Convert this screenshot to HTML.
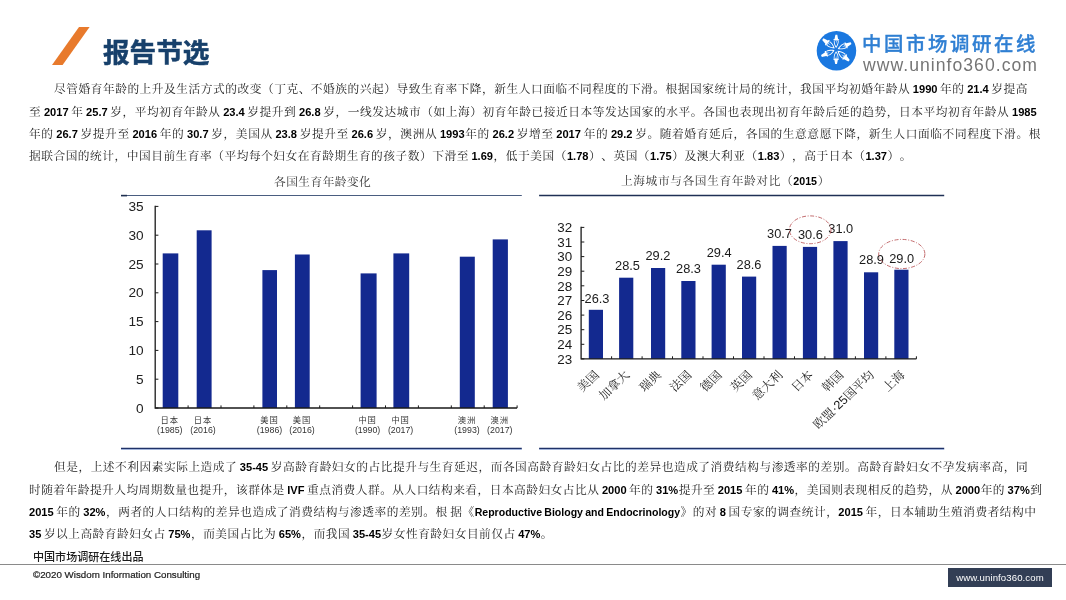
<!DOCTYPE html>
<html lang="zh-CN">
<head>
<meta charset="utf-8">
<title>报告节选</title>
<style>
  html, body { margin: 0; padding: 0; background: #fff; }
  body { width: 1066px; height: 600px; position: relative; overflow: hidden;
         font-family: "Liberation Sans", "Noto Sans CJK SC", sans-serif; }
  .abs { position: absolute; white-space: nowrap; }
  body > * { will-change: transform; }
  /* ---------- header ---------- */
  #slash { position: absolute; left: 0; top: 0; }
  #title { left: 102.5px; top: 32.8px; font-size: 26.6px; line-height: 40px; font-weight: 700; -webkit-text-stroke: 0.5px #17406b;
           color: #17406b; font-family: "Liberation Sans", "Noto Sans CJK SC", sans-serif; letter-spacing: 0px; }
  #logo { position: absolute; left: 814px; top: 28px; width: 44px; height: 44px; }
  #brand { left: 861.6px; top: 30px; font-size: 19.4px; line-height: 28px; color: #2f7fd3; font-weight: 500; -webkit-text-stroke: 0.35px #2f7fd3;
           letter-spacing: 2.6px; font-family: "Liberation Sans", "Noto Sans CJK SC", sans-serif; }
  #url { left: 862.5px; top: 54px; font-size: 17.6px; line-height: 22px; color: #757575; letter-spacing: 1.03px; }
  /* ---------- body text ---------- */
  .ln, .ct { text-spacing-trim: space-all; }
  .ln { position: absolute; white-space: nowrap; height: 22px; line-height: 22px; font-size: 11.7px; color: #222; word-spacing: -1.2px;
        font-family: "Liberation Sans", "Noto Serif CJK SC", serif; text-align: justify; text-align-last: justify; }
  .ln b { font-family: "Liberation Sans", sans-serif; font-weight: 700; font-size: 11.1px; color: #000; }
  .ct { position: absolute; white-space: nowrap; font-size: 11.7px; line-height: 16px; color: #333;
        font-family: "Liberation Sans", "Noto Serif CJK SC", serif; text-align: justify; text-align-last: justify; }
  .ct b { font-family: "Liberation Sans", sans-serif; font-weight: 700; font-size: 10.7px; color: #000; }
  /* ---------- footer ---------- */
  #pub { left: 33.1px; top: 549px; font-size: 11.05px; line-height: 16px; color: #1c1c1c; font-weight: 500;
         font-family: "Liberation Sans", "Noto Sans CJK SC", sans-serif; }
  #rule { position: absolute; left: 0; top: 563.6px; width: 1066px; height: 1.2px; background: #8a8a8a; }
  #copy { left: 33.2px; top: 568.3px; font-size: 9.75px; line-height: 14px; color: #1c1c1c; -webkit-text-stroke: 0.2px #1c1c1c; }
  #box { position: absolute; left: 948px; top: 568.2px; width: 104px; height: 19px; background: #323e55;
         color: #fff; font-size: 9.6px; line-height: 20px; text-align: center; white-space: nowrap; letter-spacing: 0.1px; }
  svg text { font-family: "Liberation Sans", "Noto Serif CJK SC", sans-serif; }
</style>
</head>
<body>

<!-- header -->
<svg id="slash" width="100" height="70" viewBox="0 0 100 70"><polygon points="79,27 89.6,27 62.6,65 52,65" fill="#e87a2c"/></svg>
<div id="title" class="abs">报告节选</div>

<svg id="logo" viewBox="-22 -22 44 44">
  <circle cx="0.45" cy="0.7" r="19.75" fill="#1a78e0"/>
  <g transform="translate(0.1,-0.4)">
    <g transform="rotate(1) scale(0.937)"><path d="M-1,-15.9 L1,-15.9 L1.9,-11.4 L3.15,-10.9 L2.8,-9.8 L-2.8,-9.8 L-3.15,-10.9 L-1.9,-11.4 Z" fill="#fff"/><path d="M0,-1.7 C1.2,-3.2 2.75,-6 2.65,-9.5 L-2.65,-9.5 C-2.75,-6 -1.2,-3.2 0,-1.7 Z" fill="#fff"/><path d="M-1.8,-9.2 L-0.34,-9.2 L0,-6.2 L0.34,-9.2 L1.8,-9.2 C1.75,-6.9 1,-4.8 0,-3.4 C-1,-4.8 -1.75,-6.9 -1.8,-9.2 Z" fill="#1a78e0"/></g>
    <g transform="rotate(66.7) scale(1.025)"><path d="M-1,-15.9 L1,-15.9 L1.9,-11.4 L3.15,-10.9 L2.8,-9.8 L-2.8,-9.8 L-3.15,-10.9 L-1.9,-11.4 Z" fill="#fff"/><path d="M0,-1.7 C1.2,-3.2 2.75,-6 2.65,-9.5 L-2.65,-9.5 C-2.75,-6 -1.2,-3.2 0,-1.7 Z" fill="#fff"/><path d="M-1.8,-9.2 L-0.34,-9.2 L0,-6.2 L0.34,-9.2 L1.8,-9.2 C1.75,-6.9 1,-4.8 0,-3.4 C-1,-4.8 -1.75,-6.9 -1.8,-9.2 Z" fill="#1a78e0"/></g>
    <g transform="rotate(130.6) scale(1.075)"><path d="M-1,-15.9 L1,-15.9 L1.9,-11.4 L3.15,-10.9 L2.8,-9.8 L-2.8,-9.8 L-3.15,-10.9 L-1.9,-11.4 Z" fill="#fff"/><path d="M0,-1.7 C1.2,-3.2 2.75,-6 2.65,-9.5 L-2.65,-9.5 C-2.75,-6 -1.2,-3.2 0,-1.7 Z" fill="#fff"/><path d="M-1.8,-9.2 L-0.34,-9.2 L0,-6.2 L0.34,-9.2 L1.8,-9.2 C1.75,-6.9 1,-4.8 0,-3.4 C-1,-4.8 -1.75,-6.9 -1.8,-9.2 Z" fill="#1a78e0"/></g>
    <g transform="rotate(180) scale(0.906)"><path d="M-1,-15.9 L1,-15.9 L1.9,-11.4 L3.15,-10.9 L2.8,-9.8 L-2.8,-9.8 L-3.15,-10.9 L-1.9,-11.4 Z" fill="#fff"/><path d="M0,-1.7 C1.2,-3.2 2.75,-6 2.65,-9.5 L-2.65,-9.5 C-2.75,-6 -1.2,-3.2 0,-1.7 Z" fill="#fff"/><path d="M-1.8,-9.2 L-0.34,-9.2 L0,-6.2 L0.34,-9.2 L1.8,-9.2 C1.75,-6.9 1,-4.8 0,-3.4 C-1,-4.8 -1.75,-6.9 -1.8,-9.2 Z" fill="#1a78e0"/></g>
    <g transform="rotate(246.6) scale(1.006)"><path d="M-1,-15.9 L1,-15.9 L1.9,-11.4 L3.15,-10.9 L2.8,-9.8 L-2.8,-9.8 L-3.15,-10.9 L-1.9,-11.4 Z" fill="#fff"/><path d="M0,-1.7 C1.2,-3.2 2.75,-6 2.65,-9.5 L-2.65,-9.5 C-2.75,-6 -1.2,-3.2 0,-1.7 Z" fill="#fff"/><path d="M-1.8,-9.2 L-0.34,-9.2 L0,-6.2 L0.34,-9.2 L1.8,-9.2 C1.75,-6.9 1,-4.8 0,-3.4 C-1,-4.8 -1.75,-6.9 -1.8,-9.2 Z" fill="#1a78e0"/></g>
    <g transform="rotate(308.3) scale(1.063)"><path d="M-1,-15.9 L1,-15.9 L1.9,-11.4 L3.15,-10.9 L2.8,-9.8 L-2.8,-9.8 L-3.15,-10.9 L-1.9,-11.4 Z" fill="#fff"/><path d="M0,-1.7 C1.2,-3.2 2.75,-6 2.65,-9.5 L-2.65,-9.5 C-2.75,-6 -1.2,-3.2 0,-1.7 Z" fill="#fff"/><path d="M-1.8,-9.2 L-0.34,-9.2 L0,-6.2 L0.34,-9.2 L1.8,-9.2 C1.75,-6.9 1,-4.8 0,-3.4 C-1,-4.8 -1.75,-6.9 -1.8,-9.2 Z" fill="#1a78e0"/></g>
  </g>
</svg>
<div id="brand" class="abs">中国市场调研在线</div>
<div id="url" class="abs">www.uninfo360.com</div>

<!-- paragraph 1 -->
<div class="ln" style="left:53.9px; top:78.4px; width:973.5px;">尽管婚育年龄的上升及生活方式的改变（丁克、不婚族的兴起）导致生育率下降，新生人口面临不同程度的下滑。根据国家统计局的统计，我国平均初婚年龄从 <b>1990</b> 年的 <b>21.4</b> 岁提高</div>
<div class="ln" style="left:29.0px; top:100.6px; width:1007.7px;">至 <b>2017</b> 年 <b>25.7</b> 岁，平均初育年龄从 <b>23.4</b> 岁提升到 <b>26.8</b> 岁，一线发达城市（如上海）初育年龄已接近日本等发达国家的水平。各国也表现出初育年龄后延的趋势，日本平均初育年龄从 <b>1985</b></div>
<div class="ln" style="left:29.0px; top:122.8px; width:1011.5px;">年的 <b>26.7</b> 岁提升至 <b>2016</b> 年的 <b>30.7</b> 岁，美国从 <b>23.8</b> 岁提升至 <b>26.6</b> 岁，澳洲从 <b>1993</b>年的 <b>26.2</b> 岁增至 <b>2017</b> 年的 <b>29.2</b> 岁。随着婚育延后，各国的生意意愿下降，新生人口面临不同程度下滑。根</div>
<div class="ln" style="left:29.0px; top:145.0px; width:882.5px;">据联合国的统计，中国目前生育率（平均每个妇女在育龄期生育的孩子数）下滑至 <b>1.69</b>，低于美国（<b>1.78</b>）、英国（<b>1.75</b>）及澳大利亚（<b>1.83</b>），高于日本（<b>1.37</b>）。</div>

<!-- chart titles -->
<div class="ct" style="left:273.5px; top:174px; width:96.8px;">各国生育年龄变化</div>
<div class="ct" style="left:621.4px; top:173px; width:208.4px;">上海城市与各国生育年龄对比（<b>2015</b>）</div>

<!-- CHARTS -->
<svg id="charts" class="abs" style="left:0; top:0;" width="1066" height="600" viewBox="0 0 1066 600">
<g fill="none">
<line x1="121" y1="195.5" x2="521.8" y2="195.5" stroke="#4a5d80" stroke-width="1"/>
<line x1="121" y1="195.6" x2="127" y2="195.6" stroke="#1f3050" stroke-width="1.6"/>
<line x1="121" y1="448.5" x2="521.8" y2="448.5" stroke="#1f3268" stroke-width="1.45"/>
<line x1="539.1" y1="195.5" x2="944.2" y2="195.5" stroke="#1f3055" stroke-width="1.45"/>
<line x1="539.1" y1="448.5" x2="944.2" y2="448.5" stroke="#1f3268" stroke-width="1.45"/>
<line x1="121" y1="449.5" x2="521.8" y2="449.5" stroke="#8aa4dc" stroke-width="0.6"/>
<line x1="539.1" y1="449.5" x2="944.2" y2="449.5" stroke="#8aa4dc" stroke-width="0.6"/>
</g>
<g id="chartL">
<rect x="162.7" y="253.4" width="15.6" height="154.6" fill="#13298f"/>
<rect x="196.7" y="230.3" width="14.9" height="177.7" fill="#13298f"/>
<rect x="262.4" y="270.1" width="14.6" height="137.9" fill="#13298f"/>
<rect x="294.9" y="254.5" width="14.8" height="153.5" fill="#13298f"/>
<rect x="360.6" y="273.4" width="16.0" height="134.6" fill="#13298f"/>
<rect x="393.4" y="253.4" width="15.8" height="154.6" fill="#13298f"/>
<rect x="459.8" y="256.7" width="15.0" height="151.3" fill="#13298f"/>
<rect x="492.7" y="239.4" width="15.2" height="168.6" fill="#13298f"/>
<path d="M155.2,205.8 V408.0 H517.1" fill="none" stroke="#1a1a1a" stroke-width="1.3"/>
<path d="M155.2,408.0 h3.2 M155.2,379.2 h3.2 M155.2,350.4 h3.2 M155.2,321.6 h3.2 M155.2,292.8 h3.2 M155.2,264.0 h3.2 M155.2,235.2 h3.2 M155.2,206.4 h3.2 M188.1,408.0 v-2.6 M221.0,408.0 v-2.6 M253.9,408.0 v-2.6 M286.8,408.0 v-2.6 M319.7,408.0 v-2.6 M352.6,408.0 v-2.6 M385.5,408.0 v-2.6 M418.4,408.0 v-2.6 M451.3,408.0 v-2.6 M484.2,408.0 v-2.6 M517.1,408.0 v-2.6 " fill="none" stroke="#1a1a1a" stroke-width="1"/>
<text transform="translate(143.6,412.6) scale(1.13,1)" text-anchor="end" font-size="12.1" fill="#222">0</text>
<text transform="translate(143.6,383.8) scale(1.13,1)" text-anchor="end" font-size="12.1" fill="#222">5</text>
<text transform="translate(143.6,355.0) scale(1.13,1)" text-anchor="end" font-size="12.1" fill="#222">10</text>
<text transform="translate(143.6,326.2) scale(1.13,1)" text-anchor="end" font-size="12.1" fill="#222">15</text>
<text transform="translate(143.6,297.4) scale(1.13,1)" text-anchor="end" font-size="12.1" fill="#222">20</text>
<text transform="translate(143.6,268.6) scale(1.13,1)" text-anchor="end" font-size="12.1" fill="#222">25</text>
<text transform="translate(143.6,239.8) scale(1.13,1)" text-anchor="end" font-size="12.1" fill="#222">30</text>
<text transform="translate(143.6,211.0) scale(1.13,1)" text-anchor="end" font-size="12.1" fill="#222">35</text>
<text x="169.8" y="422.8" text-anchor="middle" font-size="8.3" letter-spacing="0.9" fill="#3a3a3a" style="font-family:'Liberation Sans','Noto Sans CJK SC',sans-serif">日本</text>
<text x="169.8" y="433.3" text-anchor="middle" font-size="8.8" fill="#333">(1985)</text>
<text x="203.0" y="422.8" text-anchor="middle" font-size="8.3" letter-spacing="0.9" fill="#3a3a3a" style="font-family:'Liberation Sans','Noto Sans CJK SC',sans-serif">日本</text>
<text x="203.0" y="433.3" text-anchor="middle" font-size="8.8" fill="#333">(2016)</text>
<text x="269.5" y="422.8" text-anchor="middle" font-size="8.3" letter-spacing="0.9" fill="#3a3a3a" style="font-family:'Liberation Sans','Noto Sans CJK SC',sans-serif">美国</text>
<text x="269.5" y="433.3" text-anchor="middle" font-size="8.8" fill="#333">(1986)</text>
<text x="302.0" y="422.8" text-anchor="middle" font-size="8.3" letter-spacing="0.9" fill="#3a3a3a" style="font-family:'Liberation Sans','Noto Sans CJK SC',sans-serif">美国</text>
<text x="302.0" y="433.3" text-anchor="middle" font-size="8.8" fill="#333">(2016)</text>
<text x="367.6" y="422.8" text-anchor="middle" font-size="8.3" letter-spacing="0.9" fill="#3a3a3a" style="font-family:'Liberation Sans','Noto Sans CJK SC',sans-serif">中国</text>
<text x="367.6" y="433.3" text-anchor="middle" font-size="8.8" fill="#333">(1990)</text>
<text x="400.6" y="422.8" text-anchor="middle" font-size="8.3" letter-spacing="0.9" fill="#3a3a3a" style="font-family:'Liberation Sans','Noto Sans CJK SC',sans-serif">中国</text>
<text x="400.6" y="433.3" text-anchor="middle" font-size="8.8" fill="#333">(2017)</text>
<text x="467.0" y="422.8" text-anchor="middle" font-size="8.3" letter-spacing="0.9" fill="#3a3a3a" style="font-family:'Liberation Sans','Noto Sans CJK SC',sans-serif">澳洲</text>
<text x="467.0" y="433.3" text-anchor="middle" font-size="8.8" fill="#333">(1993)</text>
<text x="499.8" y="422.8" text-anchor="middle" font-size="8.3" letter-spacing="0.9" fill="#3a3a3a" style="font-family:'Liberation Sans','Noto Sans CJK SC',sans-serif">澳洲</text>
<text x="499.8" y="433.3" text-anchor="middle" font-size="8.8" fill="#333">(2017)</text>
</g>
<g id="chartR">
<rect x="588.8" y="309.8" width="14.2" height="49.1" fill="#13298f"/>
<rect x="619.1" y="277.7" width="14.2" height="81.2" fill="#13298f"/>
<rect x="651.0" y="268.0" width="14.2" height="90.9" fill="#13298f"/>
<rect x="681.3" y="281.0" width="14.2" height="77.9" fill="#13298f"/>
<rect x="711.6" y="264.7" width="14.2" height="94.2" fill="#13298f"/>
<rect x="742.0" y="276.6" width="14.2" height="82.3" fill="#13298f"/>
<rect x="772.5" y="245.9" width="14.2" height="113.0" fill="#13298f"/>
<rect x="802.9" y="246.9" width="14.2" height="112.0" fill="#13298f"/>
<rect x="833.4" y="241.1" width="14.2" height="117.8" fill="#13298f"/>
<rect x="864.0" y="272.3" width="14.2" height="86.6" fill="#13298f"/>
<rect x="894.3" y="269.7" width="14.2" height="89.2" fill="#13298f"/>
<path d="M581.1,226.8 V358.9 H916.4" fill="none" stroke="#1a1a1a" stroke-width="1.3"/>
<path d="M581.1,358.9 h3.2 M581.1,344.3 h3.2 M581.1,329.7 h3.2 M581.1,315.1 h3.2 M581.1,300.5 h3.2 M581.1,285.8 h3.2 M581.1,271.2 h3.2 M581.1,256.6 h3.2 M581.1,242.0 h3.2 M581.1,227.4 h3.2 M611.6,358.9 v-2.6 M642.1,358.9 v-2.6 M672.5,358.9 v-2.6 M703.0,358.9 v-2.6 M733.5,358.9 v-2.6 M764.0,358.9 v-2.6 M794.5,358.9 v-2.6 M824.9,358.9 v-2.6 M855.4,358.9 v-2.6 M885.9,358.9 v-2.6 M916.4,358.9 v-2.6 " fill="none" stroke="#1a1a1a" stroke-width="1"/>
<text x="572.2" y="363.6" text-anchor="end" font-size="13.4" fill="#1a1a1a">23</text>
<text x="572.2" y="349.0" text-anchor="end" font-size="13.4" fill="#1a1a1a">24</text>
<text x="572.2" y="334.4" text-anchor="end" font-size="13.4" fill="#1a1a1a">25</text>
<text x="572.2" y="319.8" text-anchor="end" font-size="13.4" fill="#1a1a1a">26</text>
<text x="572.2" y="305.2" text-anchor="end" font-size="13.4" fill="#1a1a1a">27</text>
<text x="572.2" y="290.5" text-anchor="end" font-size="13.4" fill="#1a1a1a">28</text>
<text x="572.2" y="275.9" text-anchor="end" font-size="13.4" fill="#1a1a1a">29</text>
<text x="572.2" y="261.3" text-anchor="end" font-size="13.4" fill="#1a1a1a">30</text>
<text x="572.2" y="246.7" text-anchor="end" font-size="13.4" fill="#1a1a1a">31</text>
<text x="572.2" y="232.1" text-anchor="end" font-size="13.4" fill="#1a1a1a">32</text>
<text x="597.0" y="303.3" text-anchor="middle" font-size="12.8" fill="#1a1a1a">26.3</text>
<text x="627.5" y="270.1" text-anchor="middle" font-size="12.8" fill="#1a1a1a">28.5</text>
<text x="657.9" y="260.0" text-anchor="middle" font-size="12.8" fill="#1a1a1a">29.2</text>
<text x="688.5" y="273.4" text-anchor="middle" font-size="12.8" fill="#1a1a1a">28.3</text>
<text x="719.2" y="256.7" text-anchor="middle" font-size="12.8" fill="#1a1a1a">29.4</text>
<text x="749.0" y="268.6" text-anchor="middle" font-size="12.8" fill="#1a1a1a">28.6</text>
<text x="779.5" y="237.6" text-anchor="middle" font-size="12.8" fill="#1a1a1a">30.7</text>
<text x="810.4" y="239.4" text-anchor="middle" font-size="12.8" fill="#1a1a1a">30.6</text>
<text x="840.8" y="233.3" text-anchor="middle" font-size="12.8" fill="#1a1a1a">31.0</text>
<text x="871.5" y="264.3" text-anchor="middle" font-size="12.8" fill="#1a1a1a">28.9</text>
<text x="901.7" y="262.8" text-anchor="middle" font-size="12.8" fill="#1a1a1a">29.0</text>
<ellipse cx="810.2" cy="229.8" rx="20.8" ry="13.9" fill="none" stroke="#b4484a" stroke-width="0.8" stroke-dasharray="4 1.6 1 1.6"/>
<ellipse cx="901.8" cy="254.0" rx="23.1" ry="14.6" fill="none" stroke="#b4484a" stroke-width="0.8" stroke-dasharray="4 1.6 1 1.6"/>
<text transform="translate(599.9,375.8) scale(1.06,1) rotate(-45)" text-anchor="end" font-size="11.7" fill="#262626" style="font-family:'Liberation Sans','Noto Serif CJK SC',serif">美国</text>
<text transform="translate(630.2,375.8) scale(1.06,1) rotate(-45)" text-anchor="end" font-size="11.7" fill="#262626" style="font-family:'Liberation Sans','Noto Serif CJK SC',serif">加拿大</text>
<text transform="translate(662.1,375.8) scale(1.06,1) rotate(-45)" text-anchor="end" font-size="11.7" fill="#262626" style="font-family:'Liberation Sans','Noto Serif CJK SC',serif">瑞典</text>
<text transform="translate(692.4,375.8) scale(1.06,1) rotate(-45)" text-anchor="end" font-size="11.7" fill="#262626" style="font-family:'Liberation Sans','Noto Serif CJK SC',serif">法国</text>
<text transform="translate(722.7,375.8) scale(1.06,1) rotate(-45)" text-anchor="end" font-size="11.7" fill="#262626" style="font-family:'Liberation Sans','Noto Serif CJK SC',serif">德国</text>
<text transform="translate(753.1,375.8) scale(1.06,1) rotate(-45)" text-anchor="end" font-size="11.7" fill="#262626" style="font-family:'Liberation Sans','Noto Serif CJK SC',serif">英国</text>
<text transform="translate(783.6,375.8) scale(1.06,1) rotate(-45)" text-anchor="end" font-size="11.7" fill="#262626" style="font-family:'Liberation Sans','Noto Serif CJK SC',serif">意大利</text>
<text transform="translate(814.0,375.8) scale(1.06,1) rotate(-45)" text-anchor="end" font-size="11.7" fill="#262626" style="font-family:'Liberation Sans','Noto Serif CJK SC',serif">日本</text>
<text transform="translate(844.5,375.8) scale(1.06,1) rotate(-45)" text-anchor="end" font-size="11.7" fill="#262626" style="font-family:'Liberation Sans','Noto Serif CJK SC',serif">韩国</text>
<text transform="translate(875.1,375.8) scale(1.06,1) rotate(-45)" text-anchor="end" font-size="11.7" fill="#262626" style="font-family:'Liberation Sans','Noto Serif CJK SC',serif">欧盟<tspan font-size="12" fill="#111">·25</tspan>国平均</text>
<text transform="translate(905.4,375.8) scale(1.06,1) rotate(-45)" text-anchor="end" font-size="11.7" fill="#262626" style="font-family:'Liberation Sans','Noto Serif CJK SC',serif">上海</text>
</g>
</svg>

<!-- paragraph 2 -->
<div class="ln" style="left:53.9px; top:456.3px; width:973.7px;">但是，上述不利因素实际上造成了 <b>35-45</b> 岁高龄育龄妇女的占比提升与生育延迟，而各国高龄育龄妇女占比的差异也造成了消费结构与渗透率的差别。高龄育龄妇女不孕发病率高，同</div>
<div class="ln" style="left:29.0px; top:478.5px; width:1013.0px;">时随着年龄提升人均周期数量也提升，该群体是 <b>IVF</b> 重点消费人群。从人口结构来看，日本高龄妇女占比从 <b>2000</b> 年的 <b>31%</b>提升至 <b>2015</b> 年的 <b>41%</b>，美国则表现相反的趋势，从 <b>2000</b>年的 <b>37%</b>到</div>
<div class="ln" style="left:29.0px; top:500.7px; width:1007.0px;"><b>2015</b> 年的 <b>32%</b>，两者的人口结构的差异也造成了消费结构与渗透率的差别。根 据《<b style="font-size:10.55px">Reproductive Biology and Endocrinology</b>》的对 <b>8</b> 国专家的调查统计，<b>2015</b> 年，日本辅助生殖消费者结构中</div>
<div class="ln" style="left:29.0px; top:522.9px; width:523.6px;"><b>35</b> 岁以上高龄育龄妇女占 <b>75%</b>，而美国占比为 <b>65%</b>，而我国 <b>35-45</b>岁女性育龄妇女目前仅占 <b>47%</b>。</div>

<!-- footer -->
<div id="pub" class="abs">中国市场调研在线出品</div>
<div id="rule"></div>
<div id="copy" class="abs">©2020 Wisdom Information Consulting</div>
<div id="box">www.uninfo360.com</div>

</body>
</html>
